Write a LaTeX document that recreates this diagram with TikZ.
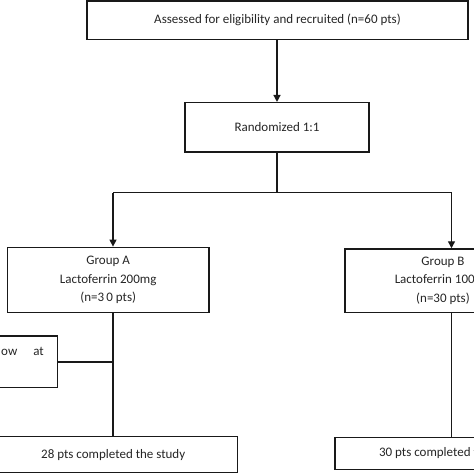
\documentclass[tikz,border=0pt]{standalone}
\usepackage{fontspec}
\setmainfont{Carlito}
\usetikzlibrary{arrows.meta,calc}
\begin{document}
\begin{tikzpicture}[x=1pt,y=-1pt,
  box/.style={draw=black!90,line width=1.4pt,rectangle,inner sep=0pt,align=center,
    font=\fontsize{13}{18.3}\selectfont,text=black!85},
  lbl/.style={inner sep=0pt,font=\fontsize{13}{18.3}\selectfont,text=black!85},
  conn/.style={draw=black!90,line width=1.4pt},
  arr/.style={conn,-{Triangle[width=7pt,length=7pt]}}]
\useasboundingbox[fill=white] (0,0) rectangle (474,474);
\node[box,minimum width=381pt,minimum height=38.5pt] (top) at (277.5,20.25) {Assessed for eligibility and recruited (n=60 pts)};
\node[box,minimum width=184pt,minimum height=49.3pt] (rand) at (277,127.3) {Randomized 1:1};
\node[box,minimum width=201.7pt,minimum height=65.4pt] (gA) at (108.2,280) {Group A\\Lactoferrin 200mg\\(n=3\,0 pts)};
\node[box,minimum width=196pt,minimum height=63.7pt] (gB) at (443,280.8) {Group B\\Lactoferrin 100mg\\(n=30 pts)};
\node[box,minimum width=177.3pt,minimum height=51.7pt] (lost) at (-31.3,361.8) {};
\node[lbl,anchor=base east] (losttxt) at (44,355) {ow\hspace{16pt}at};
\node[box,minimum width=248.3pt,minimum height=36pt] (bA) at (113.2,454.7) {28 pts completed the study};
\node[box,minimum width=232pt,minimum height=32pt] (bB) at (451,453.3) {30 pts completed the study};
\coordinate (split) at (277,192.7);
\coordinate (lA) at (113,192.7);
\coordinate (lB) at (451.5,192.7);
\draw[arr] (top.south -| rand.north) -- (rand.north);
\draw[conn] (rand.south) -- (split);
\draw[conn] (lA) -- (lB);
\draw[arr] (lA) -- (lA |- gA.north);
\draw[arr] (lB) -- (lB |- gB.north);
\draw[conn] (lA |- gA.south) -- (lA |- bA.north);
\draw[conn] (lost.east) -- (lA |- lost.east);
\draw[conn] (lB |- gB.south) -- (lB |- bB.north);
\end{tikzpicture}
\end{document}
